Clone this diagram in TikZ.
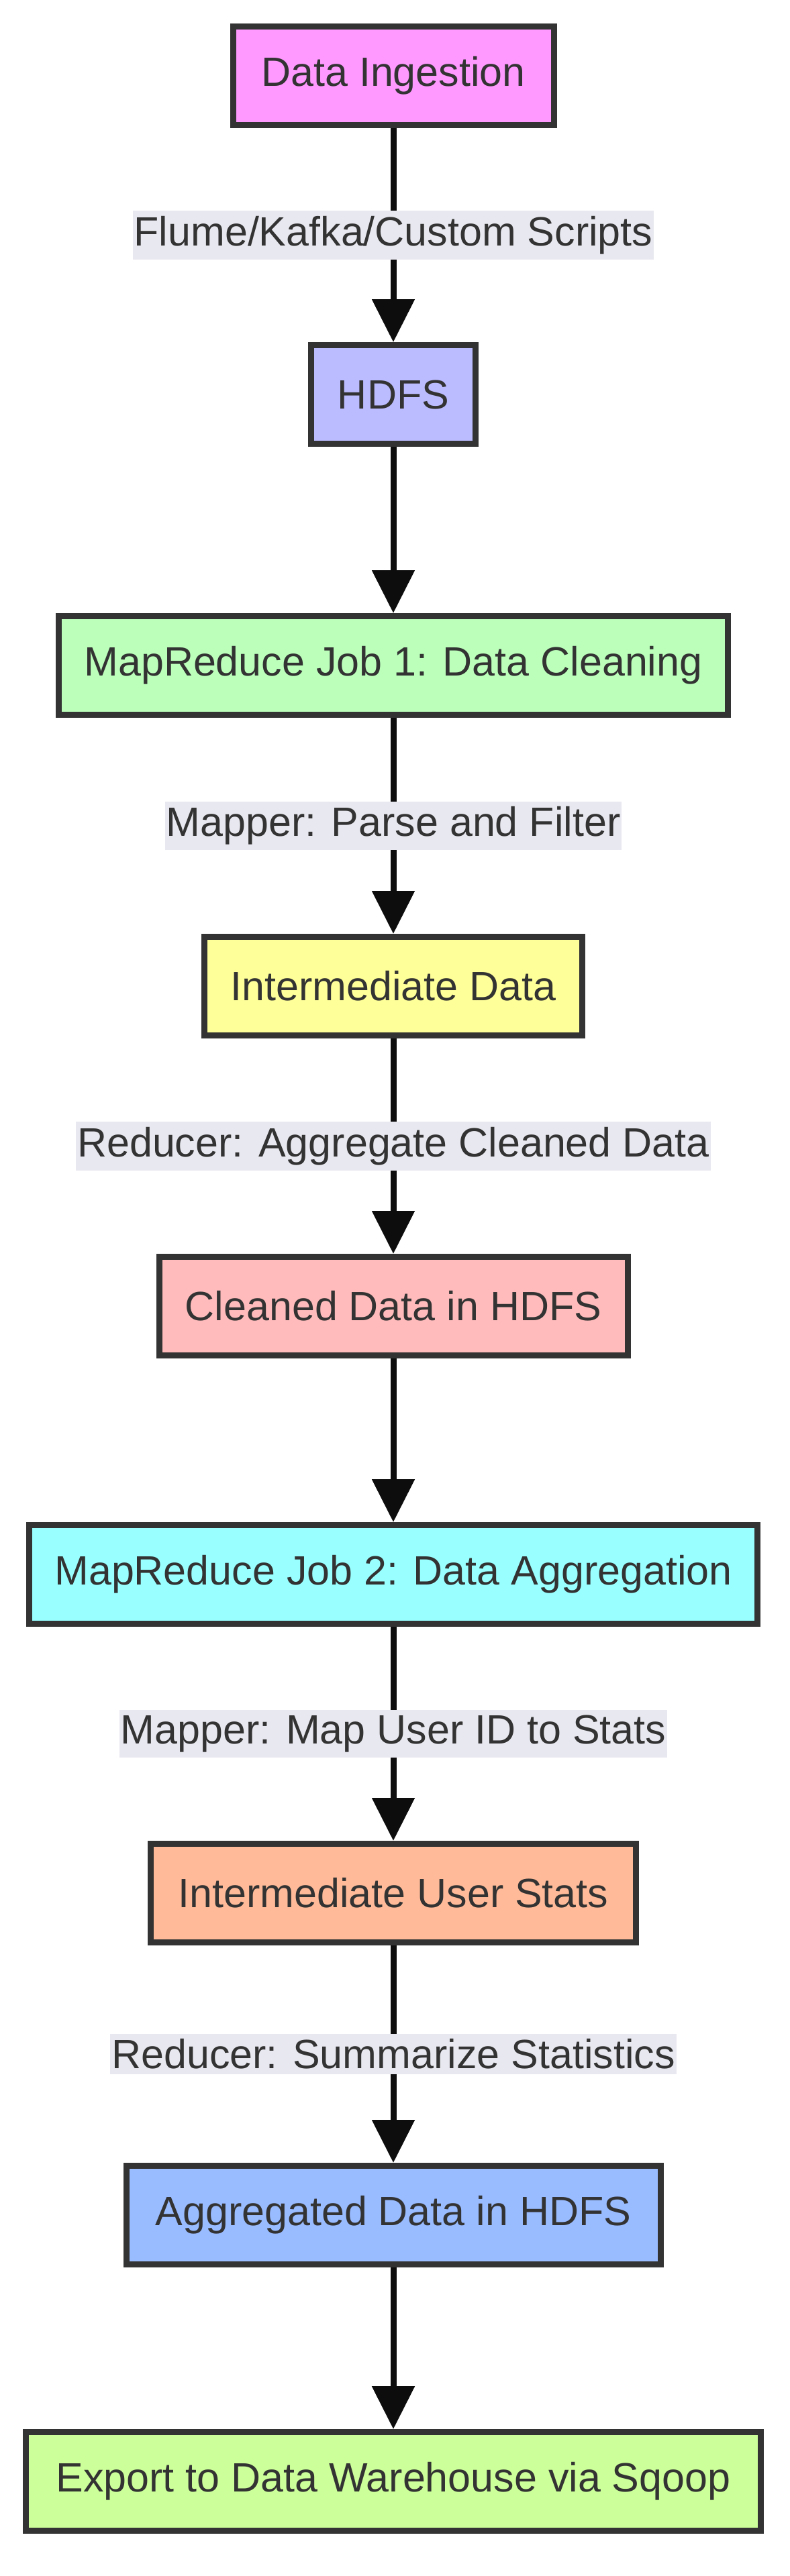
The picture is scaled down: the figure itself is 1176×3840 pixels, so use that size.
\documentclass[tikz,border=0pt]{standalone}
\usepackage{fontspec}
\setmainfont{Liberation Sans}
\usetikzlibrary{arrows.meta}
\definecolor{txt}{HTML}{333333}
\definecolor{lblbg}{HTML}{E8E8F0}
\begin{document}
\begin{tikzpicture}[x=1pt,y=-1pt,
  box/.style={draw=txt,line width=9pt,minimum height=147pt,inner sep=0pt,text=txt,font=\fontsize{61}{70}\selectfont},
  conn/.style={line width=9pt,draw=black!95,-{Triangle[length=64pt,width=62pt]}},
  lbl/.style={fill=lblbg,text=txt,font=\fontsize{61}{70}\selectfont,inner xsep=2pt,inner ysep=8pt}]
\useasboundingbox (0,0) rectangle (1176,3840);
\node[box,fill={rgb,255:red,255;green,153;blue,255},minimum width=478pt] (a) at (586,113) {Data Ingestion};
\node[box,fill={rgb,255:red,187;green,187;blue,255},minimum width=245pt] (b) at (586,588) {HDFS};
\node[box,fill={rgb,255:red,187;green,255;blue,187},minimum width=997pt] (c) at (586,992) {MapReduce Job 1: Data Cleaning};
\node[box,fill={rgb,255:red,255;green,255;blue,153},minimum width=563pt] (d) at (586,1470) {Intermediate Data};
\node[box,fill={rgb,255:red,255;green,187;blue,187},minimum width=698pt] (e) at (586,1947) {Cleaned Data in HDFS};
\node[box,fill={rgb,255:red,153;green,255;blue,255},minimum width=1085pt] (f) at (586,2347) {MapReduce Job 2: Data Aggregation};
\node[box,fill={rgb,255:red,255;green,187;blue,153},minimum width=723pt] (g) at (586,2822) {Intermediate User Stats};
\node[box,fill={rgb,255:red,153;green,187;blue,255},minimum width=796pt] (h) at (586,3302) {Aggregated Data in HDFS};
\node[box,fill={rgb,255:red,204;green,255;blue,153},minimum width=1095pt] (i) at (586,3699) {Export to Data Warehouse via Sqoop};
\draw[conn] (a) -- node[lbl]{Flume/Kafka/Custom Scripts} (b);
\draw[conn] (b) -- (c);
\draw[conn] (c) -- node[lbl]{Mapper: Parse and Filter} (d);
\draw[conn] (d) -- node[lbl]{Reducer: Aggregate Cleaned Data} (e);
\draw[conn] (e) -- (f);
\draw[conn] (f) -- node[lbl]{Mapper: Map User ID to Stats} (g);
\draw[conn] (g) -- node[lbl]{Reducer: Summarize Statistics} (h);
\draw[conn] (h) -- (i);
\end{tikzpicture}
\end{document}
